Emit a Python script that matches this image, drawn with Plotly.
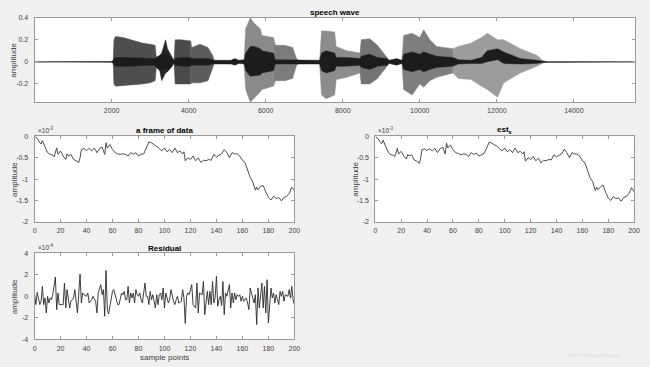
import plotly.graph_objects as go

# ---------------- data ----------------
# speech wave: envelope of the dense waveform (outer) and dark core
wave_x = [0, 1990, 2020, 2040, 2060, 2100, 2300, 2500, 2800, 3000,
          3130, 3160, 3250, 3300, 3400, 3450, 3550, 3620, 3650, 3800,
          4050, 4080, 4300, 4500, 4620, 4660, 5100, 5200, 5300, 5440,
          5480, 5600, 5700, 5860, 5900, 6200, 6250, 6500, 6700, 6800,
          6850, 7400, 7450, 7570, 7790, 7830, 8100, 8450, 8480, 8700,
          8900, 9150, 9200, 9400, 9540, 9580, 9800, 10000, 10100, 10260,
          10440, 10860, 11000, 11330, 11600, 11750, 12020, 12180, 12610, 13040,
          13200, 13300, 15590]
wave_hi = [0, 0.003, 0.01, 0.005, 0.2, 0.23, 0.22, 0.2, 0.17, 0.16,
           0.15, 0.04, 0.06, 0.08, 0.2, 0.12, 0.05, 0.01, 0.2, 0.2,
           0.19, 0.13, 0.16, 0.13, 0.06, 0.015, 0.015, 0.05, 0.015, 0.02,
           0.3, 0.4, 0.35, 0.3, 0.24, 0.22, 0.15, 0.15, 0.13, 0.03,
           0.015, 0.015, 0.28, 0.28, 0.27, 0.14, 0.1, 0.08, 0.2, 0.21,
           0.15, 0.04, 0.015, 0.03, 0.015, 0.24, 0.26, 0.22, 0.29, 0.2,
           0.14, 0.12, 0.14, 0.17, 0.22, 0.26, 0.2, 0.2, 0.12, 0.06,
           0.01, 0.002, 0.0]
wave_lo = [0, -0.003, -0.01, -0.005, -0.2, -0.22, -0.22, -0.21, -0.2, -0.19,
           -0.17, -0.05, -0.08, -0.17, -0.1, -0.09, -0.05, -0.01, -0.2, -0.2,
           -0.2, -0.19, -0.19, -0.17, -0.06, -0.015, -0.02, -0.04, -0.015, -0.02,
           -0.25, -0.365, -0.33, -0.27, -0.25, -0.22, -0.17, -0.17, -0.15, -0.03,
           -0.02, -0.02, -0.3, -0.335, -0.3, -0.16, -0.14, -0.1, -0.2, -0.2,
           -0.15, -0.04, -0.015, -0.03, -0.015, -0.25, -0.3, -0.2, -0.23, -0.17,
           -0.14, -0.1, -0.15, -0.16, -0.22, -0.25, -0.32, -0.19, -0.1, -0.04,
           -0.01, -0.002, 0.0]
core_hi = [0, 0.003, 0.01, 0.005, 0.03, 0.04, 0.04, 0.04, 0.035, 0.03,
           0.03, 0.04, 0.05, 0.06, 0.06, 0.06, 0.04, 0.01, 0.03, 0.04,
           0.04, 0.03, 0.03, 0.03, 0.02, 0.015, 0.015, 0.03, 0.015, 0.02,
           0.08, 0.14, 0.14, 0.12, 0.1, 0.08, 0.02, 0.02, 0.02, 0.02,
           0.015, 0.015, 0.08, 0.1, 0.08, 0.04, 0.04, 0.03, 0.05, 0.07,
           0.04, 0.03, 0.015, 0.03, 0.015, 0.07, 0.09, 0.07, 0.09, 0.07,
           0.05, 0.04, 0.02, 0.015, 0.04, 0.1, 0.12, 0.09, 0.03, 0.015,
           0.005, 0.002, 0.0]
core_lo = [0, -0.003, -0.01, -0.005, -0.03, -0.04, -0.04, -0.04, -0.035, -0.03,
           -0.03, -0.05, -0.07, -0.07, -0.06, -0.06, -0.04, -0.01, -0.03, -0.04,
           -0.04, -0.03, -0.03, -0.03, -0.02, -0.015, -0.02, -0.03, -0.015, -0.02,
           -0.08, -0.13, -0.13, -0.12, -0.1, -0.08, -0.02, -0.02, -0.02, -0.02,
           -0.02, -0.02, -0.08, -0.1, -0.08, -0.04, -0.04, -0.03, -0.05, -0.07,
           -0.04, -0.03, -0.015, -0.03, -0.015, -0.07, -0.09, -0.07, -0.09, -0.07,
           -0.05, -0.04, -0.02, -0.015, -0.015, 0.0, 0.02, -0.015, -0.02, -0.015,
           -0.005, -0.002, 0.0]

# voiced stretches of the waveform (sample start, sample end)
wave_seg_start = [2040, 3160, 3620, 4050, 5440, 6200, 7400, 8450, 9540, 10860]
wave_seg_end = [3160, 3620, 4050, 4660, 6200, 6850, 8450, 9200, 10860, 13300]

# a frame of data (units of 1e-3)
frame_x = [0, 2, 4, 5, 6, 8, 10, 12, 14, 15, 16, 17, 18, 20, 22, 24, 25, 26, 28, 30,
           32, 34, 35, 36, 38, 40, 42, 44, 46, 48, 50, 52, 54, 55, 56, 58, 60, 62, 64, 66,
           68, 70, 72, 74, 76, 78, 80, 82, 84, 86, 88, 90, 92, 94, 96, 98, 100, 102, 104, 106,
           108, 110, 112, 114, 115, 116, 118, 120, 122, 124, 126, 128, 130, 132, 134, 136, 138, 140, 142, 144,
           146, 148, 150, 152, 154, 156, 158, 160, 162, 164, 166, 168, 170, 171, 172, 174, 176, 178, 180, 182,
           184, 186, 188, 190, 192, 194, 196, 198, 200]
frame_y = [0, -0.04, -0.15, -0.18, -0.10, -0.23, -0.38, -0.42, -0.44, -0.48,
           -0.38, -0.27, -0.42, -0.34, -0.46, -0.54, -0.41, -0.46, -0.42, -0.54,
           -0.57, -0.61, -0.50, -0.31, -0.28, -0.33, -0.28, -0.34, -0.27, -0.38,
           -0.28, -0.25, -0.42, -0.15, -0.27, -0.19, -0.31, -0.38, -0.41, -0.42,
           -0.41, -0.42, -0.46, -0.38, -0.42, -0.38, -0.46, -0.42, -0.41, -0.27,
           -0.13, -0.15, -0.19, -0.23, -0.28, -0.34, -0.27, -0.36, -0.31, -0.38,
           -0.27, -0.38, -0.34, -0.41, -0.36, -0.57, -0.50, -0.54, -0.46, -0.57,
           -0.50, -0.61, -0.56, -0.57, -0.54, -0.56, -0.42, -0.48, -0.44, -0.41,
           -0.31, -0.38, -0.50, -0.38, -0.41, -0.41, -0.46, -0.56, -0.61, -0.77,
           -0.96, -1.07, -1.26, -1.19, -1.25, -1.17, -1.15, -1.30, -1.43, -1.49,
           -1.40, -1.46, -1.43, -1.51, -1.43, -1.40, -1.34, -1.19, -1.26]

# estimated frame est_x (units of 1e-3)
est_x = frame_x
est_y = [0, -0.05, -0.14, -0.17, -0.09, -0.24, -0.38, -0.43, -0.44, -0.47,
         -0.38, -0.28, -0.41, -0.35, -0.46, -0.53, -0.42, -0.46, -0.43, -0.55,
         -0.58, -0.63, -0.51, -0.31, -0.29, -0.33, -0.29, -0.34, -0.28, -0.38,
         -0.29, -0.25, -0.41, -0.16, -0.27, -0.20, -0.31, -0.38, -0.40, -0.43,
         -0.41, -0.42, -0.47, -0.38, -0.42, -0.39, -0.46, -0.42, -0.40, -0.28,
         -0.13, -0.16, -0.19, -0.23, -0.29, -0.34, -0.27, -0.36, -0.31, -0.38,
         -0.27, -0.38, -0.35, -0.41, -0.36, -0.58, -0.50, -0.54, -0.47, -0.57,
         -0.51, -0.62, -0.56, -0.57, -0.54, -0.55, -0.43, -0.48, -0.44, -0.41,
         -0.30, -0.38, -0.50, -0.38, -0.41, -0.42, -0.46, -0.57, -0.62, -0.78,
         -0.97, -1.06, -1.27, -1.19, -1.25, -1.18, -1.14, -1.31, -1.44, -1.50,
         -1.41, -1.46, -1.44, -1.52, -1.43, -1.41, -1.34, -1.20, -1.30]

# residual (units of 1e-4)
res_x = [0, 1, 2, 3, 4, 5, 6, 7, 8, 9, 10, 11, 12, 13, 14, 16, 17, 18, 19, 21,
         22, 23, 24, 25, 27, 28, 30, 31, 33, 35, 36, 37, 38, 40, 41, 42, 44, 45, 47, 48,
         49, 51, 52, 53, 54, 55, 56, 57, 59, 60, 61, 63, 64, 65, 66, 67, 68, 69, 70, 71,
         72, 73, 74, 75, 76, 77, 78, 79, 80, 81, 82, 83, 84, 85, 86, 87, 88, 89, 90, 91,
         93, 94, 95, 96, 97, 98, 99, 100, 101, 103, 104, 105, 107, 108, 109, 110, 111, 113, 114, 115,
         116, 117, 118, 119, 121, 122, 124, 125, 126, 127, 129, 130, 131, 133, 134, 135, 136, 137, 138, 139,
         140, 141, 142, 143, 144, 145, 146, 147, 148, 150, 151, 152, 153, 154, 155, 156, 157, 158, 159, 160,
         161, 163, 164, 165, 166, 168, 169, 170, 171, 172, 173, 175, 176, 177, 178, 179, 180, 182, 183, 184,
         185, 186, 187, 188, 189, 190, 191, 192, 193, 195, 196, 197, 198, 199, 200]
res_y = [0.15, -0.77, 0.37, -0.31, -0.77, -0.46, 0.92, -0.77, -0.15, -1.54,
         0.0, -0.62, -0.15, -0.31, 0.15, 1.78, -1.23, 0.31, -0.77, -0.77,
         -0.77, 1.23, -1.08, 0.62, -1.08, -0.46, -0.15, 0.62, -1.54, 2.06,
         -0.62, 0.31, 0.15, 0.0, 0.31, -0.62, -0.31, 0.0, -0.46, -1.54,
         0.31, 1.08, 0.15, 0.62, -1.85, 2.40, -1.23, -1.63, -0.15, 0.46,
         0.62, -0.31, -0.77, -0.77, -0.15, 0.31, 0.15, 0.46, -0.31, -0.31,
         0.92, -0.62, 0.31, -0.15, 0.31, -0.62, 0.62, 0.15, 0.0, 0.31,
         -0.31, -0.62, 0.31, 1.23, 0.0, 0.0, -0.77, 0.46, -0.31, 0.15,
         -1.08, 0.15, -0.77, 0.15, 0.31, -0.31, 0.77, -1.08, 0.31, -0.62,
         -0.31, 0.62, -0.46, -0.77, -0.31, 0.0, -0.62, -0.46, 0.62, -0.15,
         -2.52, 0.0, 0.31, 0.15, 1.08, -0.77, -1.08, 1.23, -1.54, 0.31,
         0.15, 1.38, -1.70, 0.46, -0.77, 0.46, -0.77, 1.38, -0.62, -0.15,
         1.85, -0.92, -0.31, 0.0, -0.86, 1.38, -1.70, 0.31, 0.0, 1.08,
         -1.08, 0.31, -0.62, 0.31, -0.31, 0.15, 0.0, 0.15, -0.46, 0.0,
         -0.46, -0.15, -0.62, -1.23, 0.77, -0.31, -0.62, 0.15, -2.62, 0.77,
         -1.08, 1.23, -1.08, 0.92, -1.54, 1.54, -2.46, 0.77, -0.15, 0.31,
         -0.62, 0.15, -0.31, -0.77, 0.46, 0.0, 0.46, -0.46, 0.15, 0.0,
         0.62, -0.15, 0.92, -0.31, -0.77]

top_xticks = [2000, 4000, 6000, 8000, 10000, 12000, 14000]
top_yticks = [-0.2, 0, 0.2, 0.4]
top_yticktext = ["-0.2", "0", "0.2", "0.4"]
frame_xticks = [0, 20, 40, 60, 80, 100, 120, 140, 160, 180, 200]
frame_yticks = [-2, -1.5, -1, -0.5, 0]
frame_yticktext = ["-2", "-1.5", "-1", "-0.5", "0"]
res_yticks = [-4, -2, 0, 2, 4]
res_yticktext = ["-4", "-2", "0", "2", "4"]

# ---------------- figure ----------------
W, H = 650, 367
FONT = "Liberation Sans, Arial, sans-serif"
AX_COL = "#9a9a9a"
TK_COL = "#404040"
LINE_COL = "#3a3a3a"
SEG_COLORS = ["#4e4e4e", "#262626", "#4a4a4a", "#5c5c5c", "#8a8a8a",
              "#7c7c7c", "#8c8c8c", "#747474", "#7e7e7e", "#9c9c9c"]


def px(x):
    return x / W


def py(y):
    return 1 - y / H


fig = go.Figure()

# thin base line of the waveform (silent parts)
fig.add_trace(go.Scatter(x=wave_x, y=[0] * len(wave_x), mode="lines",
                         line=dict(color="#555555", width=0.6),
                         xaxis="x", yaxis="y", hoverinfo="skip", showlegend=False))

# outer envelope, shaded per voiced stretch
for s0, s1, col in zip(wave_seg_start, wave_seg_end, SEG_COLORS):
    idx = [i for i, v in enumerate(wave_x) if s0 <= v <= s1]
    xs = [wave_x[i] for i in idx]
    hi = [wave_hi[i] for i in idx]
    lo = [wave_lo[i] for i in idx]
    fig.add_trace(go.Scatter(x=xs + xs[::-1], y=hi + lo[::-1], mode="lines",
                             fill="toself", fillcolor=col,
                             line=dict(color=col, width=0.5),
                             xaxis="x", yaxis="y", hoverinfo="skip", showlegend=False))

# dark dense core
fig.add_trace(go.Scatter(x=wave_x + wave_x[::-1], y=core_hi + core_lo[::-1],
                         mode="lines", fill="toself", fillcolor="#1c1c1c",
                         line=dict(color="#1c1c1c", width=0.4),
                         xaxis="x", yaxis="y", hoverinfo="skip", showlegend=False))

fig.add_trace(go.Scatter(x=frame_x, y=frame_y, mode="lines",
                         line=dict(color=LINE_COL, width=0.9),
                         xaxis="x2", yaxis="y2", showlegend=False))
fig.add_trace(go.Scatter(x=est_x, y=est_y, mode="lines",
                         line=dict(color=LINE_COL, width=0.9),
                         xaxis="x3", yaxis="y3", showlegend=False))
fig.add_trace(go.Scatter(x=res_x, y=res_y, mode="lines",
                         line=dict(color="#2a2a2a", width=0.9),
                         xaxis="x4", yaxis="y4", showlegend=False))


def axis_style(**kw):
    d = dict(showgrid=False, zeroline=False, showline=True, linecolor=AX_COL,
             linewidth=1, mirror="ticks", ticks="inside", ticklen=3,
             tickcolor=AX_COL, tickwidth=1,
             tickfont=dict(family=FONT, size=7, color=TK_COL))
    d.update(kw)
    return d


# domains from pixel positions
top_dom_x = [px(33), px(641)]
top_dom_y = [py(100), py(14)]
l_dom_x = [px(33), px(296)]
r_dom_x = [px(378), px(640)]
mid_dom_y = [py(222), py(135)]
bot_dom_y = [py(342), py(254)]

fig.update_layout(
    width=W, height=H,
    margin=dict(l=0, r=0, t=0, b=0),
    paper_bgcolor="#f0f0f0", plot_bgcolor="#ffffff",
    font=dict(family=FONT, color=TK_COL, size=8),
    hovermode=False,
    xaxis=axis_style(domain=top_dom_x, range=[0, 15590], tickmode="array",
                     tickvals=top_xticks, ticktext=[str(v) for v in top_xticks],
                     anchor="y", ticklabelstandoff=2),
    yaxis=axis_style(domain=top_dom_y, range=[-0.3645, 0.4], tickmode="array",
                     tickvals=top_yticks, ticktext=top_yticktext, anchor="x",
                     ticklabelstandoff=4),
    xaxis2=axis_style(domain=l_dom_x, range=[0, 200], tickmode="array",
                      tickvals=frame_xticks, ticktext=[str(v) for v in frame_xticks],
                      anchor="y2", ticklabelstandoff=2),
    yaxis2=axis_style(domain=mid_dom_y, range=[-2, 0], tickmode="array",
                      tickvals=frame_yticks, ticktext=frame_yticktext, anchor="x2",
                      ticklabelstandoff=4),
    xaxis3=axis_style(domain=r_dom_x, range=[0, 200], tickmode="array",
                      tickvals=frame_xticks, ticktext=[str(v) for v in frame_xticks],
                      anchor="y3", ticklabelstandoff=2),
    yaxis3=axis_style(domain=mid_dom_y, range=[-2, 0], tickmode="array",
                      tickvals=frame_yticks, ticktext=frame_yticktext, anchor="x3",
                      ticklabelstandoff=4),
    xaxis4=axis_style(domain=l_dom_x, range=[0, 200], tickmode="array",
                      tickvals=frame_xticks, ticktext=[str(v) for v in frame_xticks],
                      anchor="y4", ticklabelstandoff=2),
    yaxis4=axis_style(domain=bot_dom_y, range=[-4, 4], tickmode="array",
                      tickvals=res_yticks, ticktext=res_yticktext, anchor="x4",
                      ticklabelstandoff=4),
)

annotations = []


def text(x, y, s, size=8, bold=False, angle=0, xanchor="center", yanchor="middle",
         color="#000000"):
    annotations.append(dict(
        x=px(x), y=py(y), xref="paper", yref="paper",
        text=("<b>%s</b>" % s) if bold else s,
        showarrow=False, textangle=angle, xanchor=xanchor, yanchor=yanchor,
        font=dict(family=FONT, size=size, color=color)))


# titles
text(337, 9, "speech wave", size=8, bold=True)
text(164.5, 129, "a frame of data", size=8, bold=True)
text(509, 128, "est<sub>x</sub>", size=8, bold=True)
text(164.5, 249, "Residual", size=8, bold=True)
# y labels
text(12, 57, "amplitude", angle=-90, color=TK_COL)
text(12, 178.5, "amplitude", angle=-90, color=TK_COL)
text(357, 178.5, "amplitude", angle=-90, color=TK_COL)
text(12, 298, "amplitude", angle=-90, color=TK_COL)
# x label
text(164.5, 360, "sample points", color=TK_COL)
# exponent labels
text(34, 135, "×10<sup>-3</sup>", size=6.5, xanchor="left", yanchor="bottom", color=TK_COL)
text(379, 135, "×10<sup>-3</sup>", size=6.5, xanchor="left", yanchor="bottom", color=TK_COL)
text(34, 254, "×10<sup>-4</sup>", size=6.5, xanchor="left", yanchor="bottom", color=TK_COL)
# faint watermark
text(600, 358, "http://blog.csdn.net/", size=6, color="#dedede")

fig.update_layout(annotations=annotations)

fig.write_html("out.html", config={"displayModeBar": False},
               post_script="document.body.style.margin='0';")
